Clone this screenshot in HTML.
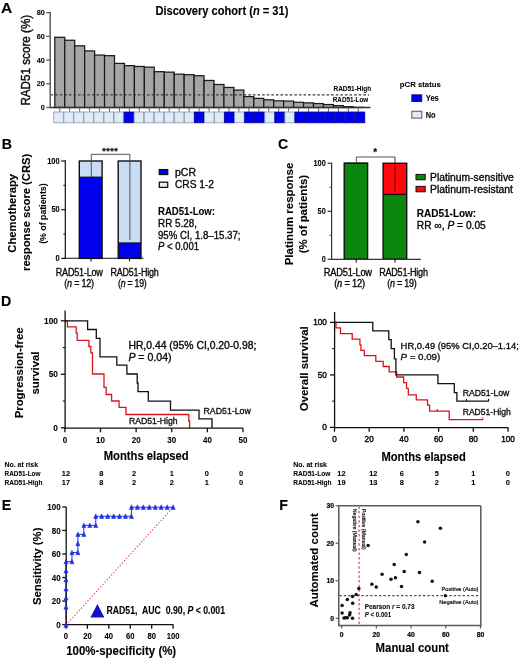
<!DOCTYPE html>
<html><head><meta charset="utf-8"><title>RAD51 figure</title>
<style>
html,body{margin:0;padding:0;background:#fff;}
body{width:520px;height:659px;overflow:hidden;}
svg{display:block;font-family:'Liberation Sans', Arial, sans-serif;}
</style></head>
<body>
<svg width="520" height="659" viewBox="0 0 520 659">
<rect width="520" height="659" fill="#fff"/>
<text x="1.00" y="12.70" font-size="15.5" stroke="#111" stroke-width="0.155" font-weight="bold" >A</text>
<text x="155.40" y="14.80" font-size="12" stroke="#111" stroke-width="0.12" font-weight="bold" textLength="133.00" lengthAdjust="spacingAndGlyphs" >Discovery cohort (<tspan font-style="italic">n</tspan> = 31)</text>
<text transform="translate(29.60,60.20) rotate(-90)" x="0" y="0" font-size="12.2" text-anchor="middle" stroke="#111" stroke-width="0.415" textLength="90.80" lengthAdjust="spacingAndGlyphs">RAD51 score (%)</text>
<rect x="54.80" y="37.28" width="9.95" height="70.22" fill="#a6a6a6" stroke="#1a1a1a" stroke-width="1.25"/>
<rect x="64.75" y="40.25" width="9.95" height="67.25" fill="#a6a6a6" stroke="#1a1a1a" stroke-width="1.25"/>
<rect x="74.70" y="45.82" width="9.95" height="61.68" fill="#a6a6a6" stroke="#1a1a1a" stroke-width="1.25"/>
<rect x="84.65" y="50.92" width="9.95" height="56.58" fill="#a6a6a6" stroke="#1a1a1a" stroke-width="1.25"/>
<rect x="94.60" y="55.07" width="9.95" height="52.43" fill="#a6a6a6" stroke="#1a1a1a" stroke-width="1.25"/>
<rect x="104.55" y="55.67" width="9.95" height="51.83" fill="#a6a6a6" stroke="#1a1a1a" stroke-width="1.25"/>
<rect x="114.50" y="63.38" width="9.95" height="44.12" fill="#a6a6a6" stroke="#1a1a1a" stroke-width="1.25"/>
<rect x="124.45" y="65.63" width="9.95" height="41.87" fill="#a6a6a6" stroke="#1a1a1a" stroke-width="1.25"/>
<rect x="134.40" y="66.46" width="9.95" height="41.04" fill="#a6a6a6" stroke="#1a1a1a" stroke-width="1.25"/>
<rect x="144.35" y="67.17" width="9.95" height="40.33" fill="#a6a6a6" stroke="#1a1a1a" stroke-width="1.25"/>
<rect x="154.30" y="71.68" width="9.95" height="35.82" fill="#a6a6a6" stroke="#1a1a1a" stroke-width="1.25"/>
<rect x="164.25" y="72.15" width="9.95" height="35.35" fill="#a6a6a6" stroke="#1a1a1a" stroke-width="1.25"/>
<rect x="174.20" y="74.17" width="9.95" height="33.33" fill="#a6a6a6" stroke="#1a1a1a" stroke-width="1.25"/>
<rect x="184.15" y="74.64" width="9.95" height="32.86" fill="#a6a6a6" stroke="#1a1a1a" stroke-width="1.25"/>
<rect x="194.10" y="75.71" width="9.95" height="31.79" fill="#a6a6a6" stroke="#1a1a1a" stroke-width="1.25"/>
<rect x="204.05" y="80.45" width="9.95" height="27.05" fill="#a6a6a6" stroke="#1a1a1a" stroke-width="1.25"/>
<rect x="214.00" y="84.49" width="9.95" height="23.01" fill="#a6a6a6" stroke="#1a1a1a" stroke-width="1.25"/>
<rect x="223.95" y="87.45" width="9.95" height="20.05" fill="#a6a6a6" stroke="#1a1a1a" stroke-width="1.25"/>
<rect x="233.90" y="90.06" width="9.95" height="17.44" fill="#a6a6a6" stroke="#1a1a1a" stroke-width="1.25"/>
<rect x="243.85" y="96.58" width="9.95" height="10.92" fill="#a6a6a6" stroke="#1a1a1a" stroke-width="1.25"/>
<rect x="253.80" y="98.36" width="9.95" height="9.14" fill="#a6a6a6" stroke="#1a1a1a" stroke-width="1.25"/>
<rect x="263.75" y="99.79" width="9.95" height="7.71" fill="#a6a6a6" stroke="#1a1a1a" stroke-width="1.25"/>
<rect x="273.70" y="100.85" width="9.95" height="6.65" fill="#a6a6a6" stroke="#1a1a1a" stroke-width="1.25"/>
<rect x="283.65" y="101.09" width="9.95" height="6.41" fill="#a6a6a6" stroke="#1a1a1a" stroke-width="1.25"/>
<rect x="293.60" y="102.28" width="9.95" height="5.22" fill="#a6a6a6" stroke="#1a1a1a" stroke-width="1.25"/>
<rect x="303.55" y="102.87" width="9.95" height="4.63" fill="#a6a6a6" stroke="#1a1a1a" stroke-width="1.25"/>
<rect x="313.50" y="103.58" width="9.95" height="3.92" fill="#a6a6a6" stroke="#1a1a1a" stroke-width="1.25"/>
<rect x="323.45" y="104.53" width="9.95" height="2.97" fill="#a6a6a6" stroke="#1a1a1a" stroke-width="1.25"/>
<rect x="333.40" y="105.60" width="9.95" height="1.90" fill="#a6a6a6" stroke="#1a1a1a" stroke-width="1.25"/>
<rect x="343.35" y="106.66" width="9.95" height="0.84" fill="#a6a6a6" stroke="#1a1a1a" stroke-width="1.25"/>
<rect x="353.30" y="107.38" width="9.95" height="0.12" fill="#a6a6a6" stroke="#1a1a1a" stroke-width="1.25"/>
<line x1="50.50" y1="94.80" x2="369.00" y2="94.80" stroke="#3a3a3a" stroke-width="1.3" stroke-dasharray="2.6,2.0"/>
<line x1="50.20" y1="12.00" x2="50.20" y2="108.00" stroke="#5e5e5e" stroke-width="1.5" />
<line x1="49.50" y1="107.50" x2="370.50" y2="107.50" stroke="#333" stroke-width="1.3" />
<line x1="46.20" y1="107.50" x2="50.20" y2="107.50" stroke="#5e5e5e" stroke-width="1.3" />
<text x="44.90" y="109.95" font-size="6.9" stroke="#111" stroke-width="0.069" font-weight="bold" text-anchor="end" textLength="4.07" lengthAdjust="spacingAndGlyphs" >0</text>
<line x1="46.20" y1="83.78" x2="50.20" y2="83.78" stroke="#5e5e5e" stroke-width="1.3" />
<text x="44.90" y="86.23" font-size="6.9" stroke="#111" stroke-width="0.069" font-weight="bold" text-anchor="end" textLength="8.13" lengthAdjust="spacingAndGlyphs" >20</text>
<line x1="46.20" y1="60.06" x2="50.20" y2="60.06" stroke="#5e5e5e" stroke-width="1.3" />
<text x="44.90" y="62.51" font-size="6.9" stroke="#111" stroke-width="0.069" font-weight="bold" text-anchor="end" textLength="8.13" lengthAdjust="spacingAndGlyphs" >40</text>
<line x1="46.20" y1="36.34" x2="50.20" y2="36.34" stroke="#5e5e5e" stroke-width="1.3" />
<text x="44.90" y="38.79" font-size="6.9" stroke="#111" stroke-width="0.069" font-weight="bold" text-anchor="end" textLength="8.13" lengthAdjust="spacingAndGlyphs" >60</text>
<line x1="46.20" y1="12.62" x2="50.20" y2="12.62" stroke="#5e5e5e" stroke-width="1.3" />
<text x="44.90" y="15.07" font-size="6.9" stroke="#111" stroke-width="0.069" font-weight="bold" text-anchor="end" textLength="8.13" lengthAdjust="spacingAndGlyphs" >80</text>
<line x1="59.77" y1="107.50" x2="59.77" y2="111.80" stroke="#555" stroke-width="0.9" />
<line x1="69.72" y1="107.50" x2="69.72" y2="111.80" stroke="#555" stroke-width="0.9" />
<line x1="79.67" y1="107.50" x2="79.67" y2="111.80" stroke="#555" stroke-width="0.9" />
<line x1="89.62" y1="107.50" x2="89.62" y2="111.80" stroke="#555" stroke-width="0.9" />
<line x1="99.57" y1="107.50" x2="99.57" y2="111.80" stroke="#555" stroke-width="0.9" />
<line x1="109.52" y1="107.50" x2="109.52" y2="111.80" stroke="#555" stroke-width="0.9" />
<line x1="119.47" y1="107.50" x2="119.47" y2="111.80" stroke="#555" stroke-width="0.9" />
<line x1="129.43" y1="107.50" x2="129.43" y2="111.80" stroke="#555" stroke-width="0.9" />
<line x1="139.38" y1="107.50" x2="139.38" y2="111.80" stroke="#555" stroke-width="0.9" />
<line x1="149.32" y1="107.50" x2="149.32" y2="111.80" stroke="#555" stroke-width="0.9" />
<line x1="159.27" y1="107.50" x2="159.27" y2="111.80" stroke="#555" stroke-width="0.9" />
<line x1="169.22" y1="107.50" x2="169.22" y2="111.80" stroke="#555" stroke-width="0.9" />
<line x1="179.17" y1="107.50" x2="179.17" y2="111.80" stroke="#555" stroke-width="0.9" />
<line x1="189.12" y1="107.50" x2="189.12" y2="111.80" stroke="#555" stroke-width="0.9" />
<line x1="199.07" y1="107.50" x2="199.07" y2="111.80" stroke="#555" stroke-width="0.9" />
<line x1="209.02" y1="107.50" x2="209.02" y2="111.80" stroke="#555" stroke-width="0.9" />
<line x1="218.97" y1="107.50" x2="218.97" y2="111.80" stroke="#555" stroke-width="0.9" />
<line x1="228.93" y1="107.50" x2="228.93" y2="111.80" stroke="#555" stroke-width="0.9" />
<line x1="238.88" y1="107.50" x2="238.88" y2="111.80" stroke="#555" stroke-width="0.9" />
<line x1="248.82" y1="107.50" x2="248.82" y2="111.80" stroke="#555" stroke-width="0.9" />
<line x1="258.77" y1="107.50" x2="258.77" y2="111.80" stroke="#555" stroke-width="0.9" />
<line x1="268.72" y1="107.50" x2="268.72" y2="111.80" stroke="#555" stroke-width="0.9" />
<line x1="278.67" y1="107.50" x2="278.67" y2="111.80" stroke="#555" stroke-width="0.9" />
<line x1="288.62" y1="107.50" x2="288.62" y2="111.80" stroke="#555" stroke-width="0.9" />
<line x1="298.57" y1="107.50" x2="298.57" y2="111.80" stroke="#555" stroke-width="0.9" />
<line x1="308.52" y1="107.50" x2="308.52" y2="111.80" stroke="#555" stroke-width="0.9" />
<line x1="318.47" y1="107.50" x2="318.47" y2="111.80" stroke="#555" stroke-width="0.9" />
<line x1="328.43" y1="107.50" x2="328.43" y2="111.80" stroke="#555" stroke-width="0.9" />
<line x1="338.38" y1="107.50" x2="338.38" y2="111.80" stroke="#555" stroke-width="0.9" />
<line x1="348.32" y1="107.50" x2="348.32" y2="111.80" stroke="#555" stroke-width="0.9" />
<line x1="358.27" y1="107.50" x2="358.27" y2="111.80" stroke="#555" stroke-width="0.9" />
<rect x="53.75" y="112.00" width="9.55" height="10.80" fill="#e0ebf8" stroke="#8a96a8" stroke-width="0.8"/>
<rect x="63.80" y="112.00" width="9.55" height="10.80" fill="#e0ebf8" stroke="#8a96a8" stroke-width="0.8"/>
<rect x="73.85" y="112.00" width="9.55" height="10.80" fill="#e0ebf8" stroke="#8a96a8" stroke-width="0.8"/>
<rect x="83.90" y="112.00" width="9.55" height="10.80" fill="#e0ebf8" stroke="#8a96a8" stroke-width="0.8"/>
<rect x="93.95" y="112.00" width="9.55" height="10.80" fill="#e0ebf8" stroke="#8a96a8" stroke-width="0.8"/>
<rect x="104.00" y="112.00" width="9.55" height="10.80" fill="#e0ebf8" stroke="#8a96a8" stroke-width="0.8"/>
<rect x="114.05" y="112.00" width="9.55" height="10.80" fill="#e0ebf8" stroke="#8a96a8" stroke-width="0.8"/>
<rect x="124.10" y="112.00" width="9.55" height="10.80" fill="#0000ee" stroke="#00009a" stroke-width="0.8"/>
<rect x="134.15" y="112.00" width="9.55" height="10.80" fill="#e0ebf8" stroke="#8a96a8" stroke-width="0.8"/>
<rect x="144.20" y="112.00" width="9.55" height="10.80" fill="#e0ebf8" stroke="#8a96a8" stroke-width="0.8"/>
<rect x="154.25" y="112.00" width="9.55" height="10.80" fill="#e0ebf8" stroke="#8a96a8" stroke-width="0.8"/>
<rect x="164.30" y="112.00" width="9.55" height="10.80" fill="#e0ebf8" stroke="#8a96a8" stroke-width="0.8"/>
<rect x="174.35" y="112.00" width="9.55" height="10.80" fill="#e0ebf8" stroke="#8a96a8" stroke-width="0.8"/>
<rect x="184.40" y="112.00" width="9.55" height="10.80" fill="#e0ebf8" stroke="#8a96a8" stroke-width="0.8"/>
<rect x="194.45" y="112.00" width="9.55" height="10.80" fill="#0000ee" stroke="#00009a" stroke-width="0.8"/>
<rect x="204.50" y="112.00" width="9.55" height="10.80" fill="#e0ebf8" stroke="#8a96a8" stroke-width="0.8"/>
<rect x="214.55" y="112.00" width="9.55" height="10.80" fill="#e0ebf8" stroke="#8a96a8" stroke-width="0.8"/>
<rect x="224.60" y="112.00" width="9.55" height="10.80" fill="#0000ee" stroke="#00009a" stroke-width="0.8"/>
<rect x="234.65" y="112.00" width="9.55" height="10.80" fill="#e0ebf8" stroke="#8a96a8" stroke-width="0.8"/>
<rect x="244.70" y="112.00" width="9.55" height="10.80" fill="#0000ee" stroke="#00009a" stroke-width="0.8"/>
<rect x="254.75" y="112.00" width="9.55" height="10.80" fill="#0000ee" stroke="#00009a" stroke-width="0.8"/>
<rect x="264.80" y="112.00" width="9.55" height="10.80" fill="#e0ebf8" stroke="#8a96a8" stroke-width="0.8"/>
<rect x="274.85" y="112.00" width="9.55" height="10.80" fill="#0000ee" stroke="#00009a" stroke-width="0.8"/>
<rect x="284.90" y="112.00" width="9.55" height="10.80" fill="#e0ebf8" stroke="#8a96a8" stroke-width="0.8"/>
<rect x="294.95" y="112.00" width="9.55" height="10.80" fill="#0000ee" stroke="#00009a" stroke-width="0.8"/>
<rect x="305.00" y="112.00" width="9.55" height="10.80" fill="#0000ee" stroke="#00009a" stroke-width="0.8"/>
<rect x="315.05" y="112.00" width="9.55" height="10.80" fill="#0000ee" stroke="#00009a" stroke-width="0.8"/>
<rect x="325.10" y="112.00" width="9.55" height="10.80" fill="#0000ee" stroke="#00009a" stroke-width="0.8"/>
<rect x="335.15" y="112.00" width="9.55" height="10.80" fill="#0000ee" stroke="#00009a" stroke-width="0.8"/>
<rect x="345.20" y="112.00" width="9.55" height="10.80" fill="#0000ee" stroke="#00009a" stroke-width="0.8"/>
<rect x="355.25" y="112.00" width="9.55" height="10.80" fill="#0000ee" stroke="#00009a" stroke-width="0.8"/>
<text x="333.50" y="90.80" font-size="6.6" stroke="#111" stroke-width="0.066" font-weight="bold" textLength="37.70" lengthAdjust="spacingAndGlyphs" >RAD51-High</text>
<text x="332.80" y="102.00" font-size="6.6" stroke="#111" stroke-width="0.066" font-weight="bold" textLength="35.40" lengthAdjust="spacingAndGlyphs" >RAD51-Low</text>
<text x="399.80" y="86.90" font-size="8" stroke="#111" stroke-width="0.08" font-weight="bold" textLength="41.00" lengthAdjust="spacingAndGlyphs" >pCR status</text>
<rect x="411.80" y="94.80" width="10.00" height="6.80" fill="#0000ee" stroke="#00009a" stroke-width="0.8"/>
<text x="425.80" y="101.30" font-size="8.2" stroke="#111" stroke-width="0.082" font-weight="bold" textLength="13.00" lengthAdjust="spacingAndGlyphs" >Yes</text>
<rect x="411.80" y="111.30" width="10.00" height="6.80" fill="#e0ebf8" stroke="#5f6670" stroke-width="1.1"/>
<text x="425.80" y="117.60" font-size="8.2" stroke="#111" stroke-width="0.082" font-weight="bold" textLength="9.80" lengthAdjust="spacingAndGlyphs" >No</text>
<text x="1.80" y="148.90" font-size="14.2" stroke="#111" stroke-width="0.142" font-weight="bold" >B</text>
<text transform="translate(15.90,213.35) rotate(-90)" x="0" y="0" font-size="11" text-anchor="middle" stroke="#111" stroke-width="0.11" font-weight="bold" textLength="78.70" lengthAdjust="spacingAndGlyphs">Chemotherapy</text>
<text transform="translate(29.50,212.35) rotate(-90)" x="0" y="0" font-size="11" text-anchor="middle" stroke="#111" stroke-width="0.11" font-weight="bold" textLength="117.30" lengthAdjust="spacingAndGlyphs">response score (CRS)</text>
<text transform="translate(45.90,213.60) rotate(-90)" x="0" y="0" font-size="9" text-anchor="middle" stroke="#111" stroke-width="0.09" font-weight="bold" textLength="60.50" lengthAdjust="spacingAndGlyphs">(% of patients)</text>
<rect x="79.30" y="161.00" width="22.80" height="16.23" fill="#c9dcf3" stroke="none" stroke-width="1"/>
<rect x="79.30" y="177.23" width="22.80" height="81.17" fill="#0000ee" stroke="none" stroke-width="1"/>
<line x1="79.30" y1="177.23" x2="102.10" y2="177.23" stroke="#111" stroke-width="1.3" />
<rect x="79.30" y="161.00" width="22.80" height="97.40" fill="none" stroke="#111" stroke-width="1.4"/>
<rect x="118.20" y="161.00" width="22.80" height="82.02" fill="#c9dcf3" stroke="none" stroke-width="1"/>
<rect x="118.20" y="243.02" width="22.80" height="15.38" fill="#0000ee" stroke="none" stroke-width="1"/>
<line x1="118.20" y1="243.02" x2="141.00" y2="243.02" stroke="#111" stroke-width="1.3" />
<rect x="118.20" y="161.00" width="22.80" height="97.40" fill="none" stroke="#111" stroke-width="1.4"/>
<line x1="91.30" y1="154.30" x2="129.90" y2="154.30" stroke="#444" stroke-width="0.9" />
<line x1="91.30" y1="154.30" x2="91.30" y2="177.00" stroke="#444" stroke-width="0.9" />
<line x1="129.90" y1="154.30" x2="129.90" y2="240.00" stroke="#444" stroke-width="0.9" />
<text x="110.00" y="153.60" font-size="9.5" stroke="#111" stroke-width="0.323" text-anchor="middle" textLength="16.00" lengthAdjust="spacingAndGlyphs" >****</text>
<line x1="65.30" y1="160.20" x2="65.30" y2="258.80" stroke="#111" stroke-width="1.2" />
<line x1="64.80" y1="258.25" x2="143.50" y2="258.25" stroke="#111" stroke-width="1.2" />
<line x1="61.30" y1="258.40" x2="65.30" y2="258.40" stroke="#111" stroke-width="1.2" />
<text x="59.80" y="261.10" font-size="8.6" stroke="#111" stroke-width="0.086" font-weight="bold" text-anchor="end" textLength="4.21" lengthAdjust="spacingAndGlyphs" >0</text>
<line x1="61.30" y1="209.70" x2="65.30" y2="209.70" stroke="#111" stroke-width="1.2" />
<text x="59.80" y="212.40" font-size="8.6" stroke="#111" stroke-width="0.086" font-weight="bold" text-anchor="end" textLength="8.42" lengthAdjust="spacingAndGlyphs" >50</text>
<line x1="61.30" y1="161.00" x2="65.30" y2="161.00" stroke="#111" stroke-width="1.2" />
<text x="59.80" y="163.70" font-size="8.6" stroke="#111" stroke-width="0.086" font-weight="bold" text-anchor="end" textLength="12.63" lengthAdjust="spacingAndGlyphs" >100</text>
<line x1="63.30" y1="234.05" x2="65.30" y2="234.05" stroke="#111" stroke-width="1.0" />
<line x1="63.30" y1="185.35" x2="65.30" y2="185.35" stroke="#111" stroke-width="1.0" />
<line x1="91.00" y1="258.25" x2="91.00" y2="261.50" stroke="#111" stroke-width="1.1" />
<line x1="129.50" y1="258.25" x2="129.50" y2="261.50" stroke="#111" stroke-width="1.1" />
<text x="55.80" y="275.80" font-size="10" stroke="#111" stroke-width="0.34" textLength="46.80" lengthAdjust="spacingAndGlyphs" letter-spacing="-0.25">RAD51-Low</text>
<text x="110.50" y="275.80" font-size="10" stroke="#111" stroke-width="0.34" textLength="48.00" lengthAdjust="spacingAndGlyphs" letter-spacing="-0.25">RAD51-High</text>
<text x="64.30" y="287.10" font-size="10" stroke="#111" stroke-width="0.34" textLength="29.50" lengthAdjust="spacingAndGlyphs" letter-spacing="-0.25">(<tspan font-style="italic">n</tspan> = 12)</text>
<text x="118.00" y="287.10" font-size="10" stroke="#111" stroke-width="0.34" textLength="28.50" lengthAdjust="spacingAndGlyphs" letter-spacing="-0.25">(<tspan font-style="italic">n</tspan> = 19)</text>
<rect x="159.30" y="169.60" width="8.40" height="4.90" fill="#0000ee" stroke="#111" stroke-width="1.3"/>
<text x="175.00" y="175.90" font-size="10" stroke="#111" stroke-width="0.34" textLength="21.00" lengthAdjust="spacingAndGlyphs" >pCR</text>
<rect x="159.30" y="182.20" width="8.40" height="5.20" fill="#e2ecf8" stroke="#111" stroke-width="1.3"/>
<text x="175.00" y="188.10" font-size="10" stroke="#111" stroke-width="0.34" textLength="39.00" lengthAdjust="spacingAndGlyphs" >CRS 1-2</text>
<text x="158.00" y="215.00" font-size="10" stroke="#111" stroke-width="0.1" font-weight="bold" textLength="57.00" lengthAdjust="spacingAndGlyphs" >RAD51-Low:</text>
<text x="158.00" y="226.60" font-size="10" stroke="#111" stroke-width="0.34" textLength="39.00" lengthAdjust="spacingAndGlyphs" >RR 5.28,</text>
<text x="158.00" y="238.70" font-size="10" stroke="#111" stroke-width="0.34" textLength="82.50" lengthAdjust="spacingAndGlyphs" >95% CI, 1.8–15.37;</text>
<text x="158.00" y="250.10" font-size="10" stroke="#111" stroke-width="0.34" textLength="41.00" lengthAdjust="spacingAndGlyphs" ><tspan font-style="italic">P</tspan> &lt; 0.001</text>
<text x="277.90" y="148.90" font-size="14.2" stroke="#111" stroke-width="0.142" font-weight="bold" >C</text>
<text transform="translate(293.30,214.00) rotate(-90)" x="0" y="0" font-size="10.6" text-anchor="middle" stroke="#111" stroke-width="0.106" font-weight="bold" textLength="102.60" lengthAdjust="spacingAndGlyphs">Platinum response</text>
<text transform="translate(306.60,214.10) rotate(-90)" x="0" y="0" font-size="11.2" text-anchor="middle" stroke="#111" stroke-width="0.112" font-weight="bold" textLength="78.50" lengthAdjust="spacingAndGlyphs">(% of patients)</text>
<rect x="344.20" y="163.25" width="23.40" height="0.00" fill="#0a870c" stroke="none" stroke-width="1"/>
<rect x="344.20" y="163.25" width="23.40" height="96.00" fill="#0a870c" stroke="none" stroke-width="1"/>
<line x1="344.20" y1="163.25" x2="367.60" y2="163.25" stroke="#111" stroke-width="1.3" />
<rect x="344.20" y="163.25" width="23.40" height="96.00" fill="none" stroke="#111" stroke-width="1.4"/>
<rect x="383.10" y="163.25" width="23.60" height="31.18" fill="#ff0a0a" stroke="none" stroke-width="1"/>
<rect x="383.10" y="194.43" width="23.60" height="64.82" fill="#0a870c" stroke="none" stroke-width="1"/>
<line x1="383.10" y1="194.43" x2="406.70" y2="194.43" stroke="#111" stroke-width="1.3" />
<rect x="383.10" y="163.25" width="23.60" height="96.00" fill="none" stroke="#111" stroke-width="1.4"/>
<line x1="356.30" y1="157.00" x2="395.00" y2="157.00" stroke="#444" stroke-width="0.9" />
<line x1="356.30" y1="157.00" x2="356.30" y2="162.50" stroke="#444" stroke-width="0.9" />
<line x1="395.00" y1="157.00" x2="395.00" y2="191.30" stroke="#5a0000" stroke-width="0.9" />
<text x="375.20" y="156.00" font-size="10" stroke="#111" stroke-width="0.1" font-weight="bold" text-anchor="middle" >*</text>
<line x1="331.60" y1="162.70" x2="331.60" y2="259.80" stroke="#333" stroke-width="1.2" />
<line x1="331.00" y1="259.30" x2="420.80" y2="259.30" stroke="#333" stroke-width="1.2" />
<line x1="327.60" y1="259.25" x2="331.60" y2="259.25" stroke="#333" stroke-width="1.2" />
<text x="325.80" y="261.85" font-size="8.2" stroke="#111" stroke-width="0.082" font-weight="bold" text-anchor="end" textLength="4.10" lengthAdjust="spacingAndGlyphs" >0</text>
<line x1="327.60" y1="211.25" x2="331.60" y2="211.25" stroke="#333" stroke-width="1.2" />
<text x="325.80" y="213.85" font-size="8.2" stroke="#111" stroke-width="0.082" font-weight="bold" text-anchor="end" textLength="8.21" lengthAdjust="spacingAndGlyphs" >50</text>
<line x1="327.60" y1="163.25" x2="331.60" y2="163.25" stroke="#333" stroke-width="1.2" />
<text x="325.80" y="165.85" font-size="8.2" stroke="#111" stroke-width="0.082" font-weight="bold" text-anchor="end" textLength="12.31" lengthAdjust="spacingAndGlyphs" >100</text>
<line x1="329.60" y1="235.25" x2="331.60" y2="235.25" stroke="#333" stroke-width="1.0" />
<line x1="329.60" y1="187.25" x2="331.60" y2="187.25" stroke="#333" stroke-width="1.0" />
<line x1="356.20" y1="259.30" x2="356.20" y2="262.50" stroke="#111" stroke-width="1.1" />
<line x1="395.00" y1="259.30" x2="395.00" y2="262.50" stroke="#111" stroke-width="1.1" />
<text x="323.80" y="275.70" font-size="10" stroke="#111" stroke-width="0.34" textLength="48.00" lengthAdjust="spacingAndGlyphs" letter-spacing="-0.25">RAD51-Low</text>
<text x="379.20" y="275.70" font-size="10" stroke="#111" stroke-width="0.34" textLength="48.50" lengthAdjust="spacingAndGlyphs" letter-spacing="-0.25">RAD51-High</text>
<text x="334.20" y="287.00" font-size="10" stroke="#111" stroke-width="0.34" textLength="30.80" lengthAdjust="spacingAndGlyphs" letter-spacing="-0.25">(<tspan font-style="italic">n</tspan> = 12)</text>
<text x="387.30" y="287.00" font-size="10" stroke="#111" stroke-width="0.34" textLength="29.30" lengthAdjust="spacingAndGlyphs" letter-spacing="-0.25">(<tspan font-style="italic">n</tspan> = 19)</text>
<rect x="416.00" y="174.40" width="9.20" height="5.40" fill="#0a870c" stroke="#111" stroke-width="1"/>
<text x="430.00" y="180.70" font-size="10.4" stroke="#111" stroke-width="0.354" textLength="83.80" lengthAdjust="spacingAndGlyphs" >Platinum-sensitive</text>
<rect x="416.00" y="186.40" width="9.20" height="5.40" fill="#ff0a0a" stroke="#111" stroke-width="1"/>
<text x="430.00" y="193.20" font-size="10.4" stroke="#111" stroke-width="0.354" textLength="83.00" lengthAdjust="spacingAndGlyphs" >Platinum-resistant</text>
<text x="416.80" y="217.00" font-size="10.4" stroke="#111" stroke-width="0.104" font-weight="bold" textLength="59.40" lengthAdjust="spacingAndGlyphs" >RAD51-Low:</text>
<text x="416.80" y="229.20" font-size="10.4" stroke="#111" stroke-width="0.354" textLength="69.00" lengthAdjust="spacingAndGlyphs" >RR ∞, <tspan font-style="italic">P</tspan> = 0.05</text>
<text x="0.90" y="306.30" font-size="14.2" stroke="#111" stroke-width="0.142" font-weight="bold" >D</text>
<text transform="translate(23.40,372.90) rotate(-90)" x="0" y="0" font-size="10.9" text-anchor="middle" stroke="#111" stroke-width="0.109" font-weight="bold" textLength="90.80" lengthAdjust="spacingAndGlyphs">Progression-free</text>
<text transform="translate(38.60,373.00) rotate(-90)" x="0" y="0" font-size="10.9" text-anchor="middle" stroke="#111" stroke-width="0.109" font-weight="bold" textLength="43.00" lengthAdjust="spacingAndGlyphs">survival</text>
<polyline points="65.10,320.80 67.40,320.80 67.40,326.80 76.20,326.80 76.20,333.20 77.20,333.20 77.20,340.30 88.90,340.30 88.90,346.50 90.80,346.50 90.80,352.80 92.50,352.80 92.50,374.00 104.00,374.00 104.00,387.40 106.20,387.40 106.20,394.50 111.60,394.50 111.60,401.00 119.10,401.00 119.10,407.40 126.00,407.40 126.00,414.50 188.80,414.50 188.80,421.00 189.60,421.00 189.60,428.00" fill="none" stroke="#d8161e" stroke-width="1.3" stroke-linejoin="miter" />
<polyline points="65.10,320.80 87.60,320.80 87.60,329.50 96.30,329.50 96.30,338.30 100.00,338.30 100.00,356.80 116.80,356.80 116.80,365.20 126.90,365.20 126.90,374.00 137.20,374.00 137.20,383.00 138.00,383.00 138.00,391.60 148.30,391.60 148.30,401.20 170.50,401.20 170.50,410.20 199.00,410.20 199.00,418.80 212.00,418.80 212.00,428.00" fill="none" stroke="#111" stroke-width="1.3" stroke-linejoin="miter" />
<line x1="65.10" y1="310.50" x2="65.10" y2="428.60" stroke="#111" stroke-width="1.3" />
<line x1="64.50" y1="428.10" x2="242.90" y2="428.10" stroke="#111" stroke-width="1.3" />
<line x1="60.80" y1="427.80" x2="65.10" y2="427.80" stroke="#111" stroke-width="1.3" />
<text x="58.00" y="430.50" font-size="9.6" stroke="#111" stroke-width="0.096" font-weight="bold" text-anchor="end" textLength="4.64" lengthAdjust="spacingAndGlyphs" >0</text>
<line x1="60.80" y1="374.30" x2="65.10" y2="374.30" stroke="#111" stroke-width="1.3" />
<text x="58.00" y="377.00" font-size="9.6" stroke="#111" stroke-width="0.096" font-weight="bold" text-anchor="end" textLength="9.29" lengthAdjust="spacingAndGlyphs" >50</text>
<line x1="60.80" y1="320.80" x2="65.10" y2="320.80" stroke="#111" stroke-width="1.3" />
<text x="58.00" y="323.50" font-size="9.6" stroke="#111" stroke-width="0.096" font-weight="bold" text-anchor="end" textLength="13.93" lengthAdjust="spacingAndGlyphs" >100</text>
<line x1="62.80" y1="401.05" x2="65.10" y2="401.05" stroke="#111" stroke-width="1.1" />
<line x1="62.80" y1="347.55" x2="65.10" y2="347.55" stroke="#111" stroke-width="1.1" />
<line x1="64.90" y1="428.10" x2="64.90" y2="432.30" stroke="#111" stroke-width="1.3" />
<text x="64.90" y="442.60" font-size="8.9" stroke="#111" stroke-width="0.089" font-weight="bold" text-anchor="middle" textLength="4.45" lengthAdjust="spacingAndGlyphs" >0</text>
<line x1="100.52" y1="428.10" x2="100.52" y2="432.30" stroke="#111" stroke-width="1.3" />
<text x="100.52" y="442.60" font-size="8.9" stroke="#111" stroke-width="0.089" font-weight="bold" text-anchor="middle" textLength="8.91" lengthAdjust="spacingAndGlyphs" >10</text>
<line x1="136.14" y1="428.10" x2="136.14" y2="432.30" stroke="#111" stroke-width="1.3" />
<text x="136.14" y="442.60" font-size="8.9" stroke="#111" stroke-width="0.089" font-weight="bold" text-anchor="middle" textLength="8.91" lengthAdjust="spacingAndGlyphs" >20</text>
<line x1="171.76" y1="428.10" x2="171.76" y2="432.30" stroke="#111" stroke-width="1.3" />
<text x="171.76" y="442.60" font-size="8.9" stroke="#111" stroke-width="0.089" font-weight="bold" text-anchor="middle" textLength="8.91" lengthAdjust="spacingAndGlyphs" >30</text>
<line x1="207.38" y1="428.10" x2="207.38" y2="432.30" stroke="#111" stroke-width="1.3" />
<text x="207.38" y="442.60" font-size="8.9" stroke="#111" stroke-width="0.089" font-weight="bold" text-anchor="middle" textLength="8.91" lengthAdjust="spacingAndGlyphs" >40</text>
<line x1="243.00" y1="428.10" x2="243.00" y2="432.30" stroke="#111" stroke-width="1.3" />
<text x="243.00" y="442.60" font-size="8.9" stroke="#111" stroke-width="0.089" font-weight="bold" text-anchor="middle" textLength="8.91" lengthAdjust="spacingAndGlyphs" >50</text>
<text x="128.40" y="348.70" font-size="10.2" stroke="#111" stroke-width="0.347" textLength="128.00" lengthAdjust="spacingAndGlyphs" >HR,0.44 (95% CI,0.20-0.98;</text>
<text x="128.40" y="360.70" font-size="10.2" stroke="#111" stroke-width="0.347" textLength="43.20" lengthAdjust="spacingAndGlyphs" ><tspan font-style="italic">P</tspan> = 0.04)</text>
<text x="203.50" y="413.80" font-size="9.8" stroke="#111" stroke-width="0.333" textLength="47.30" lengthAdjust="spacingAndGlyphs" >RAD51-Low</text>
<text x="129.00" y="424.40" font-size="9.8" stroke="#111" stroke-width="0.333" textLength="48.60" lengthAdjust="spacingAndGlyphs" >RAD51-High</text>
<text x="103.70" y="460.30" font-size="12" stroke="#111" stroke-width="0.12" font-weight="bold" textLength="85.00" lengthAdjust="spacingAndGlyphs" >Months elapsed</text>
<text x="4.50" y="466.80" font-size="7.4" stroke="#111" stroke-width="0.074" font-weight="bold" textLength="33.50" lengthAdjust="spacingAndGlyphs" >No. at risk</text>
<text x="4.50" y="476.40" font-size="7.4" stroke="#111" stroke-width="0.074" font-weight="bold" textLength="36.00" lengthAdjust="spacingAndGlyphs" >RAD51-Low</text>
<text x="4.50" y="485.00" font-size="7.4" stroke="#111" stroke-width="0.074" font-weight="bold" textLength="38.00" lengthAdjust="spacingAndGlyphs" >RAD51-High</text>
<text x="65.90" y="476.40" font-size="7.4" stroke="#111" stroke-width="0.074" font-weight="bold" text-anchor="middle" >12</text>
<text x="65.90" y="485.00" font-size="7.4" stroke="#111" stroke-width="0.074" font-weight="bold" text-anchor="middle" >17</text>
<text x="101.30" y="476.40" font-size="7.4" stroke="#111" stroke-width="0.074" font-weight="bold" text-anchor="middle" >8</text>
<text x="101.30" y="485.00" font-size="7.4" stroke="#111" stroke-width="0.074" font-weight="bold" text-anchor="middle" >8</text>
<text x="134.10" y="476.40" font-size="7.4" stroke="#111" stroke-width="0.074" font-weight="bold" text-anchor="middle" >2</text>
<text x="134.10" y="485.00" font-size="7.4" stroke="#111" stroke-width="0.074" font-weight="bold" text-anchor="middle" >2</text>
<text x="171.70" y="476.40" font-size="7.4" stroke="#111" stroke-width="0.074" font-weight="bold" text-anchor="middle" >1</text>
<text x="171.70" y="485.00" font-size="7.4" stroke="#111" stroke-width="0.074" font-weight="bold" text-anchor="middle" >2</text>
<text x="206.70" y="476.40" font-size="7.4" stroke="#111" stroke-width="0.074" font-weight="bold" text-anchor="middle" >0</text>
<text x="206.70" y="485.00" font-size="7.4" stroke="#111" stroke-width="0.074" font-weight="bold" text-anchor="middle" >1</text>
<text x="241.00" y="476.40" font-size="7.4" stroke="#111" stroke-width="0.074" font-weight="bold" text-anchor="middle" >0</text>
<text x="241.00" y="485.00" font-size="7.4" stroke="#111" stroke-width="0.074" font-weight="bold" text-anchor="middle" >0</text>
<text transform="translate(307.90,368.70) rotate(-90)" x="0" y="0" font-size="11.4" text-anchor="middle" stroke="#111" stroke-width="0.114" font-weight="bold" textLength="85.00" lengthAdjust="spacingAndGlyphs">Overall survival</text>
<polyline points="334.70,322.40 336.00,322.40 336.00,327.80 340.50,327.80 340.50,333.60 352.20,333.60 352.20,339.20 359.90,339.20 359.90,344.80 360.90,344.80 360.90,350.30 364.30,350.30 364.30,355.60 375.80,355.60 375.80,361.40 383.20,361.40 383.20,366.50 389.20,366.50 389.20,371.80 396.60,371.80 396.60,377.00 403.60,377.00 403.60,382.70 406.50,382.70 406.50,388.40 408.30,388.40 408.30,394.80 416.30,394.80 416.30,399.80 427.50,399.80 427.50,405.20 429.60,405.20 429.60,411.20 449.20,411.20 449.20,419.60 483.00,419.60" fill="none" stroke="#d8161e" stroke-width="1.3" stroke-linejoin="miter" />
<polyline points="334.70,322.40 372.80,322.40 372.80,330.90 388.80,330.90 388.80,339.60 391.20,339.60 391.20,348.60 394.40,348.60 394.40,358.80 395.90,358.80 395.90,374.80 437.90,374.80 437.90,383.60 454.30,383.60 454.30,392.60 456.90,392.60 456.90,401.20 488.80,401.20" fill="none" stroke="#111" stroke-width="1.3" stroke-linejoin="miter" />
<line x1="466.50" y1="399.00" x2="466.50" y2="401.20" stroke="#111" stroke-width="1.1" />
<line x1="488.60" y1="398.80" x2="488.60" y2="401.20" stroke="#111" stroke-width="1.1" />
<line x1="437.30" y1="409.00" x2="437.30" y2="411.20" stroke="#d8161e" stroke-width="1.1" />
<line x1="482.80" y1="417.40" x2="482.80" y2="419.60" stroke="#d8161e" stroke-width="1.1" />
<line x1="334.60" y1="312.00" x2="334.60" y2="428.00" stroke="#111" stroke-width="1.3" />
<line x1="334.00" y1="427.60" x2="508.30" y2="427.60" stroke="#111" stroke-width="1.3" />
<line x1="330.00" y1="427.40" x2="334.60" y2="427.40" stroke="#111" stroke-width="1.3" />
<text x="326.90" y="430.30" font-size="9.6" stroke="#111" stroke-width="0.45" text-anchor="end" textLength="4.59" lengthAdjust="spacingAndGlyphs" >0</text>
<line x1="330.00" y1="374.90" x2="334.60" y2="374.90" stroke="#111" stroke-width="1.3" />
<text x="326.90" y="377.80" font-size="9.6" stroke="#111" stroke-width="0.45" text-anchor="end" textLength="9.18" lengthAdjust="spacingAndGlyphs" >50</text>
<line x1="330.00" y1="322.40" x2="334.60" y2="322.40" stroke="#111" stroke-width="1.3" />
<text x="326.90" y="325.30" font-size="9.6" stroke="#111" stroke-width="0.45" text-anchor="end" textLength="13.77" lengthAdjust="spacingAndGlyphs" >100</text>
<line x1="332.20" y1="401.15" x2="334.60" y2="401.15" stroke="#111" stroke-width="1.1" />
<line x1="332.20" y1="348.65" x2="334.60" y2="348.65" stroke="#111" stroke-width="1.1" />
<line x1="334.50" y1="427.60" x2="334.50" y2="431.80" stroke="#111" stroke-width="1.3" />
<text x="334.50" y="441.80" font-size="9.4" stroke="#111" stroke-width="0.45" text-anchor="middle" textLength="4.60" lengthAdjust="spacingAndGlyphs" >0</text>
<line x1="369.21" y1="427.60" x2="369.21" y2="431.80" stroke="#111" stroke-width="1.3" />
<text x="369.21" y="441.80" font-size="9.4" stroke="#111" stroke-width="0.45" text-anchor="middle" textLength="9.20" lengthAdjust="spacingAndGlyphs" >20</text>
<line x1="403.92" y1="427.60" x2="403.92" y2="431.80" stroke="#111" stroke-width="1.3" />
<text x="403.92" y="441.80" font-size="9.4" stroke="#111" stroke-width="0.45" text-anchor="middle" textLength="9.20" lengthAdjust="spacingAndGlyphs" >40</text>
<line x1="438.63" y1="427.60" x2="438.63" y2="431.80" stroke="#111" stroke-width="1.3" />
<text x="438.63" y="441.80" font-size="9.4" stroke="#111" stroke-width="0.45" text-anchor="middle" textLength="9.20" lengthAdjust="spacingAndGlyphs" >60</text>
<line x1="473.34" y1="427.60" x2="473.34" y2="431.80" stroke="#111" stroke-width="1.3" />
<text x="473.34" y="441.80" font-size="9.4" stroke="#111" stroke-width="0.45" text-anchor="middle" textLength="9.20" lengthAdjust="spacingAndGlyphs" >80</text>
<line x1="508.05" y1="427.60" x2="508.05" y2="431.80" stroke="#111" stroke-width="1.3" />
<text x="508.05" y="441.80" font-size="9.4" stroke="#111" stroke-width="0.45" text-anchor="middle" textLength="13.80" lengthAdjust="spacingAndGlyphs" >100</text>
<text x="400.60" y="348.60" font-size="9.6" stroke="#111" stroke-width="0.326" textLength="118.20" lengthAdjust="spacingAndGlyphs" >HR,0.49 (95% CI,0.20–1.14;</text>
<text x="400.60" y="359.80" font-size="9.4" stroke="#111" stroke-width="0.32" textLength="39.60" lengthAdjust="spacingAndGlyphs" ><tspan font-style="italic">P</tspan> = 0.09)</text>
<text x="462.70" y="396.20" font-size="9.8" stroke="#111" stroke-width="0.333" textLength="46.70" lengthAdjust="spacingAndGlyphs" >RAD51-Low</text>
<text x="462.70" y="414.80" font-size="9.8" stroke="#111" stroke-width="0.333" textLength="48.10" lengthAdjust="spacingAndGlyphs" >RAD51-High</text>
<text x="381.50" y="460.80" font-size="12" stroke="#111" stroke-width="0.12" font-weight="bold" textLength="84.30" lengthAdjust="spacingAndGlyphs" >Months elapsed</text>
<text x="293.30" y="466.80" font-size="7.4" stroke="#111" stroke-width="0.074" font-weight="bold" textLength="33.70" lengthAdjust="spacingAndGlyphs" >No. at risk</text>
<text x="293.30" y="476.40" font-size="7.4" stroke="#111" stroke-width="0.074" font-weight="bold" textLength="37.20" lengthAdjust="spacingAndGlyphs" >RAD51-Low</text>
<text x="293.30" y="485.00" font-size="7.4" stroke="#111" stroke-width="0.074" font-weight="bold" textLength="38.20" lengthAdjust="spacingAndGlyphs" >RAD51-High</text>
<text x="341.40" y="476.40" font-size="7.4" stroke="#111" stroke-width="0.074" font-weight="bold" text-anchor="middle" >12</text>
<text x="341.40" y="485.00" font-size="7.4" stroke="#111" stroke-width="0.074" font-weight="bold" text-anchor="middle" >19</text>
<text x="373.30" y="476.40" font-size="7.4" stroke="#111" stroke-width="0.074" font-weight="bold" text-anchor="middle" >12</text>
<text x="373.30" y="485.00" font-size="7.4" stroke="#111" stroke-width="0.074" font-weight="bold" text-anchor="middle" >13</text>
<text x="401.70" y="476.40" font-size="7.4" stroke="#111" stroke-width="0.074" font-weight="bold" text-anchor="middle" >6</text>
<text x="401.70" y="485.00" font-size="7.4" stroke="#111" stroke-width="0.074" font-weight="bold" text-anchor="middle" >8</text>
<text x="436.90" y="476.40" font-size="7.4" stroke="#111" stroke-width="0.074" font-weight="bold" text-anchor="middle" >5</text>
<text x="436.90" y="485.00" font-size="7.4" stroke="#111" stroke-width="0.074" font-weight="bold" text-anchor="middle" >2</text>
<text x="473.30" y="476.40" font-size="7.4" stroke="#111" stroke-width="0.074" font-weight="bold" text-anchor="middle" >1</text>
<text x="473.30" y="485.00" font-size="7.4" stroke="#111" stroke-width="0.074" font-weight="bold" text-anchor="middle" >1</text>
<text x="507.90" y="476.40" font-size="7.4" stroke="#111" stroke-width="0.074" font-weight="bold" text-anchor="middle" >0</text>
<text x="507.90" y="485.00" font-size="7.4" stroke="#111" stroke-width="0.074" font-weight="bold" text-anchor="middle" >0</text>
<text x="1.70" y="509.70" font-size="14.2" stroke="#111" stroke-width="0.142" font-weight="bold" >E</text>
<text transform="translate(40.90,566.30) rotate(-90)" x="0" y="0" font-size="11.6" text-anchor="middle" stroke="#111" stroke-width="0.116" font-weight="bold" textLength="77.50" lengthAdjust="spacingAndGlyphs">Sensitivity (%)</text>
<line x1="66.00" y1="625.10" x2="173.10" y2="507.20" stroke="#d8404e" stroke-width="1.1" stroke-dasharray="1.3,1.9"/>
<line x1="62.20" y1="624.60" x2="66.20" y2="624.60" stroke="#111" stroke-width="1.3" />
<text x="60.60" y="627.70" font-size="8.9" stroke="#111" stroke-width="0.089" font-weight="bold" text-anchor="end" textLength="4.45" lengthAdjust="spacingAndGlyphs" >0</text>
<line x1="66.00" y1="624.70" x2="66.00" y2="628.80" stroke="#111" stroke-width="1.3" />
<text x="66.00" y="639.40" font-size="9.4" stroke="#111" stroke-width="0.094" font-weight="bold" text-anchor="middle" textLength="4.29" lengthAdjust="spacingAndGlyphs" >0</text>
<line x1="62.20" y1="601.06" x2="66.20" y2="601.06" stroke="#111" stroke-width="1.3" />
<text x="60.60" y="604.16" font-size="8.9" stroke="#111" stroke-width="0.089" font-weight="bold" text-anchor="end" textLength="8.91" lengthAdjust="spacingAndGlyphs" >20</text>
<line x1="87.42" y1="624.70" x2="87.42" y2="628.80" stroke="#111" stroke-width="1.3" />
<text x="87.42" y="639.40" font-size="9.4" stroke="#111" stroke-width="0.094" font-weight="bold" text-anchor="middle" textLength="8.57" lengthAdjust="spacingAndGlyphs" >20</text>
<line x1="62.20" y1="577.52" x2="66.20" y2="577.52" stroke="#111" stroke-width="1.3" />
<text x="60.60" y="580.62" font-size="8.9" stroke="#111" stroke-width="0.089" font-weight="bold" text-anchor="end" textLength="8.91" lengthAdjust="spacingAndGlyphs" >40</text>
<line x1="108.84" y1="624.70" x2="108.84" y2="628.80" stroke="#111" stroke-width="1.3" />
<text x="108.84" y="639.40" font-size="9.4" stroke="#111" stroke-width="0.094" font-weight="bold" text-anchor="middle" textLength="8.57" lengthAdjust="spacingAndGlyphs" >40</text>
<line x1="62.20" y1="553.98" x2="66.20" y2="553.98" stroke="#111" stroke-width="1.3" />
<text x="60.60" y="557.08" font-size="8.9" stroke="#111" stroke-width="0.089" font-weight="bold" text-anchor="end" textLength="8.91" lengthAdjust="spacingAndGlyphs" >60</text>
<line x1="130.26" y1="624.70" x2="130.26" y2="628.80" stroke="#111" stroke-width="1.3" />
<text x="130.26" y="639.40" font-size="9.4" stroke="#111" stroke-width="0.094" font-weight="bold" text-anchor="middle" textLength="8.57" lengthAdjust="spacingAndGlyphs" >60</text>
<line x1="62.20" y1="530.44" x2="66.20" y2="530.44" stroke="#111" stroke-width="1.3" />
<text x="60.60" y="533.54" font-size="8.9" stroke="#111" stroke-width="0.089" font-weight="bold" text-anchor="end" textLength="8.91" lengthAdjust="spacingAndGlyphs" >80</text>
<line x1="151.68" y1="624.70" x2="151.68" y2="628.80" stroke="#111" stroke-width="1.3" />
<text x="151.68" y="639.40" font-size="9.4" stroke="#111" stroke-width="0.094" font-weight="bold" text-anchor="middle" textLength="8.57" lengthAdjust="spacingAndGlyphs" >80</text>
<line x1="62.20" y1="506.90" x2="66.20" y2="506.90" stroke="#111" stroke-width="1.3" />
<text x="60.60" y="510.00" font-size="8.9" stroke="#111" stroke-width="0.089" font-weight="bold" text-anchor="end" textLength="13.36" lengthAdjust="spacingAndGlyphs" >100</text>
<line x1="173.10" y1="624.70" x2="173.10" y2="628.80" stroke="#111" stroke-width="1.3" />
<text x="173.10" y="639.40" font-size="9.4" stroke="#111" stroke-width="0.094" font-weight="bold" text-anchor="middle" textLength="12.86" lengthAdjust="spacingAndGlyphs" >100</text>
<polyline points="66.00,625.10 66.00,561.62 71.95,561.62 71.95,552.55 77.90,552.55 77.90,534.41 83.85,534.41 83.85,525.34 95.75,525.34 95.75,516.27 131.45,516.27 131.45,507.20 173.10,507.20" fill="none" stroke="#2233dd" stroke-width="1.0" stroke-linejoin="miter" />
<line x1="66.20" y1="506.90" x2="66.20" y2="625.20" stroke="#111" stroke-width="1.3" />
<line x1="65.60" y1="624.70" x2="173.40" y2="624.70" stroke="#111" stroke-width="1.3" />
<path d="M63.90,627.30L66.00,622.70L68.10,627.30ZM63.90,609.16L66.00,604.56L68.10,609.16ZM63.90,600.09L66.00,595.49L68.10,600.09ZM63.90,591.02L66.00,586.42L68.10,591.02ZM63.90,581.95L66.00,577.35L68.10,581.95ZM63.90,572.88L66.00,568.28L68.10,572.88ZM63.90,563.82L66.00,559.22L68.10,563.82ZM69.85,563.82L71.95,559.22L74.05,563.82ZM69.85,554.75L71.95,550.15L74.05,554.75ZM75.80,554.75L77.90,550.15L80.00,554.75ZM75.80,545.68L77.90,541.08L80.00,545.68ZM75.80,536.61L77.90,532.01L80.00,536.61ZM81.75,536.61L83.85,532.01L85.95,536.61ZM81.75,527.54L83.85,522.94L85.95,527.54ZM87.70,527.54L89.80,522.94L91.90,527.54ZM93.65,527.54L95.75,522.94L97.85,527.54ZM93.65,518.47L95.75,513.87L97.85,518.47ZM99.60,518.47L101.70,513.87L103.80,518.47ZM105.55,518.47L107.65,513.87L109.75,518.47ZM111.50,518.47L113.60,513.87L115.70,518.47ZM117.45,518.47L119.55,513.87L121.65,518.47ZM123.40,518.47L125.50,513.87L127.60,518.47ZM129.35,518.47L131.45,513.87L133.55,518.47ZM129.35,509.40L131.45,504.80L133.55,509.40ZM135.30,509.40L137.40,504.80L139.50,509.40ZM141.25,509.40L143.35,504.80L145.45,509.40ZM147.20,509.40L149.30,504.80L151.40,509.40ZM153.15,509.40L155.25,504.80L157.35,509.40ZM159.10,509.40L161.20,504.80L163.30,509.40ZM165.05,509.40L167.15,504.80L169.25,509.40ZM171.00,509.40L173.10,504.80L175.20,509.40Z" fill="#1f2fe0" stroke="#1f2fe0" stroke-width="0.5"/>
<path d="M90.4,617.4L97.4,604.0L104.4,617.4Z" fill="#1010d0"/>
<text x="106.50" y="613.60" font-size="10" stroke="#111" stroke-width="0.1" font-weight="bold" textLength="118.50" lengthAdjust="spacingAndGlyphs" >RAD51,  AUC  0.90, <tspan font-style="italic">P</tspan> &lt; 0.001</text>
<text x="66.20" y="655.00" font-size="12" stroke="#111" stroke-width="0.12" font-weight="bold" textLength="110.00" lengthAdjust="spacingAndGlyphs" >100%-specificity (%)</text>
<text x="279.30" y="509.70" font-size="14.2" stroke="#111" stroke-width="0.142" font-weight="bold" >F</text>
<text transform="translate(318.40,560.40) rotate(-90)" x="0" y="0" font-size="11.5" text-anchor="middle" stroke="#111" stroke-width="0.115" font-weight="bold" textLength="94.40" lengthAdjust="spacingAndGlyphs">Automated count</text>
<line x1="338.80" y1="505.80" x2="480.80" y2="505.80" stroke="#5a5a5a" stroke-width="1.5" />
<line x1="480.80" y1="505.80" x2="480.80" y2="626.20" stroke="#5a5a5a" stroke-width="1.5" />
<line x1="338.80" y1="505.20" x2="338.80" y2="626.20" stroke="#5a5a5a" stroke-width="1.5" />
<line x1="338.20" y1="625.60" x2="481.40" y2="625.60" stroke="#5a5a5a" stroke-width="1.5" />
<line x1="335.60" y1="618.30" x2="338.80" y2="618.30" stroke="#5a5a5a" stroke-width="1.2" />
<text x="334.00" y="620.70" font-size="6.8" stroke="#111" stroke-width="0.22" font-weight="bold" text-anchor="end" >0</text>
<line x1="335.60" y1="580.80" x2="338.80" y2="580.80" stroke="#5a5a5a" stroke-width="1.2" />
<text x="334.00" y="583.20" font-size="6.8" stroke="#111" stroke-width="0.22" font-weight="bold" text-anchor="end" >10</text>
<line x1="335.60" y1="543.30" x2="338.80" y2="543.30" stroke="#5a5a5a" stroke-width="1.2" />
<text x="334.00" y="545.70" font-size="6.8" stroke="#111" stroke-width="0.22" font-weight="bold" text-anchor="end" >20</text>
<line x1="335.60" y1="505.80" x2="338.80" y2="505.80" stroke="#5a5a5a" stroke-width="1.2" />
<text x="334.00" y="508.20" font-size="6.8" stroke="#111" stroke-width="0.22" font-weight="bold" text-anchor="end" >30</text>
<line x1="341.60" y1="625.60" x2="341.60" y2="628.60" stroke="#5a5a5a" stroke-width="1.2" />
<text x="341.60" y="637.20" font-size="6.8" stroke="#111" stroke-width="0.22" font-weight="bold" text-anchor="middle" >0</text>
<line x1="376.32" y1="625.60" x2="376.32" y2="628.60" stroke="#5a5a5a" stroke-width="1.2" />
<text x="376.32" y="637.20" font-size="6.8" stroke="#111" stroke-width="0.22" font-weight="bold" text-anchor="middle" >20</text>
<line x1="411.04" y1="625.60" x2="411.04" y2="628.60" stroke="#5a5a5a" stroke-width="1.2" />
<text x="411.04" y="637.20" font-size="6.8" stroke="#111" stroke-width="0.22" font-weight="bold" text-anchor="middle" >40</text>
<line x1="445.76" y1="625.60" x2="445.76" y2="628.60" stroke="#5a5a5a" stroke-width="1.2" />
<text x="445.76" y="637.20" font-size="6.8" stroke="#111" stroke-width="0.22" font-weight="bold" text-anchor="middle" >60</text>
<line x1="480.48" y1="625.60" x2="480.48" y2="628.60" stroke="#5a5a5a" stroke-width="1.2" />
<text x="480.48" y="637.20" font-size="6.8" stroke="#111" stroke-width="0.22" font-weight="bold" text-anchor="middle" >80</text>
<line x1="359.10" y1="506.50" x2="359.10" y2="625.00" stroke="#e23a5e" stroke-width="1.2" stroke-dasharray="2.4,2.2"/>
<line x1="339.40" y1="595.70" x2="480.20" y2="595.70" stroke="#3c3cc0" stroke-width="1.3" stroke-dasharray="2.3,2.1"/>
<text transform="translate(352.60,530.10) rotate(90)" x="0" y="0" font-size="5.2" text-anchor="middle" stroke="#111" stroke-width="0.177" textLength="42.80" lengthAdjust="spacingAndGlyphs">Negative (Manual)</text>
<text transform="translate(362.00,529.10) rotate(90)" x="0" y="0" font-size="5.2" text-anchor="middle" stroke="#111" stroke-width="0.177" textLength="40.90" lengthAdjust="spacingAndGlyphs">Positive (Manual)</text>
<text x="441.50" y="590.70" font-size="6.0" stroke="#111" stroke-width="0.204" textLength="37.00" lengthAdjust="spacingAndGlyphs" >Positive (Auto)</text>
<text x="439.20" y="604.30" font-size="6.0" stroke="#111" stroke-width="0.204" textLength="39.30" lengthAdjust="spacingAndGlyphs" >Negative (Auto)</text>
<text x="364.70" y="609.40" font-size="7.0" stroke="#111" stroke-width="0.07" font-weight="bold" textLength="49.80" lengthAdjust="spacingAndGlyphs" >Pearson <tspan font-style="italic">r</tspan> = 0.73</text>
<text x="364.70" y="617.30" font-size="7.0" stroke="#111" stroke-width="0.07" font-weight="bold" textLength="26.50" lengthAdjust="spacingAndGlyphs" ><tspan font-style="italic">P</tspan> &lt; 0.001</text>
<text x="375.60" y="651.80" font-size="12" stroke="#111" stroke-width="0.12" font-weight="bold" textLength="73.30" lengthAdjust="spacingAndGlyphs" >Manual count</text>
<g fill="#111"><circle cx="371.90" cy="584.20" r="1.75"/><circle cx="358.80" cy="588.50" r="1.75"/><circle cx="356.20" cy="594.60" r="1.75"/><circle cx="352.50" cy="596.40" r="1.75"/><circle cx="347.30" cy="599.50" r="1.75"/><circle cx="342.10" cy="605.40" r="1.75"/><circle cx="352.70" cy="603.30" r="1.75"/><circle cx="342.10" cy="613.10" r="1.75"/><circle cx="350.00" cy="612.70" r="1.75"/><circle cx="345.40" cy="617.70" r="1.75"/><circle cx="347.30" cy="617.70" r="1.75"/><circle cx="349.60" cy="615.00" r="1.75"/><circle cx="352.50" cy="618.20" r="1.75"/><circle cx="344.00" cy="618.00" r="1.75"/><circle cx="417.90" cy="521.80" r="1.75"/><circle cx="440.40" cy="528.30" r="1.75"/><circle cx="424.60" cy="542.00" r="1.75"/><circle cx="368.10" cy="545.60" r="1.75"/><circle cx="406.30" cy="554.50" r="1.75"/><circle cx="394.20" cy="564.60" r="1.75"/><circle cx="382.10" cy="574.20" r="1.75"/><circle cx="404.20" cy="571.40" r="1.75"/><circle cx="419.50" cy="572.60" r="1.75"/><circle cx="391.00" cy="579.20" r="1.75"/><circle cx="395.40" cy="577.70" r="1.75"/><circle cx="376.20" cy="587.10" r="1.75"/><circle cx="401.50" cy="586.40" r="1.75"/><circle cx="432.20" cy="581.30" r="1.75"/><circle cx="445.40" cy="595.70" r="1.75"/></g>
</svg>
</body></html>
